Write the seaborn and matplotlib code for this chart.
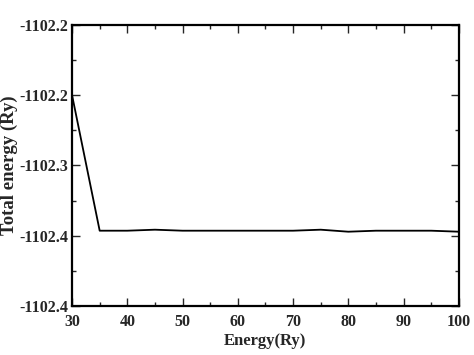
"""
Convergence test: total energy against cutoff energy.
"""
import numpy as np
import pandas as pd
from matplotlib import pyplot as plt
from matplotlib.ticker import MultipleLocator, FixedLocator
import seaborn as sns

# Data
cutoff = [30, 35, 40, 45, 50, 55, 60, 65, 70, 75, 80, 85, 90, 95, 100]
total_energy = [
    -1102.230, -1102.365, -1102.365, -1102.364, -1102.365,
    -1102.365, -1102.365, -1102.365, -1102.365, -1102.364,
    -1102.366, -1102.365, -1102.365, -1102.365, -1102.366,
]
ytick_vals = [-1102.44, -1102.37, -1102.30, -1102.23, -1102.16]
ytick_labels = ["-1102.4", "-1102.4", "-1102.3", "-1102.2", "-1102.2"]
xtick_vals = [30, 40, 50, 60, 70, 80, 90, 100]

data = pd.DataFrame({"cutoff": cutoff, "energy": total_energy})

sns.set_style("ticks")
plt.rcParams["font.family"] = ["Liberation Serif", "DejaVu Serif"]
plt.rcParams["font.weight"] = "bold"

fig, ax = plt.subplots(
    figsize=(4.74, 3.55),
    dpi=100,
    gridspec_kw=dict(left=0.152, right=0.968, top=0.930, bottom=0.138),
)

sns.lineplot(data=data, x="cutoff", y="energy", color="black", lw=1.3, ax=ax)

# Format
ax.set_xlim(30, 100)
ax.set_ylim(ytick_vals[0], ytick_vals[-1])
ax.xaxis.set_major_locator(FixedLocator(xtick_vals))
ax.xaxis.set_minor_locator(MultipleLocator(5))
ax.yaxis.set_major_locator(FixedLocator(ytick_vals))
ax.yaxis.set_minor_locator(FixedLocator(
    [(a + b) / 2 for a, b in zip(ytick_vals[:-1], ytick_vals[1:])]
))
ax.set_yticklabels(ytick_labels)

ax.tick_params(which="both", direction="in", top=True, right=True,
               labelsize=11.5, width=1.0)
ax.tick_params(which="major", length=6)
ax.tick_params(axis="x", which="major", pad=6)
ax.tick_params(axis="y", which="major", pad=3)
ax.tick_params(which="minor", length=3)
for spine in ax.spines.values():
    spine.set_linewidth(1.6)
    spine.set_color("black")

ax.set_xlabel("Energy(Ry)", fontsize=12, weight="bold", labelpad=2)
ax.set_ylabel("Total energy (Ry)", fontsize=13.5, weight="bold", labelpad=1)

plt.savefig("out.png", dpi=100)
